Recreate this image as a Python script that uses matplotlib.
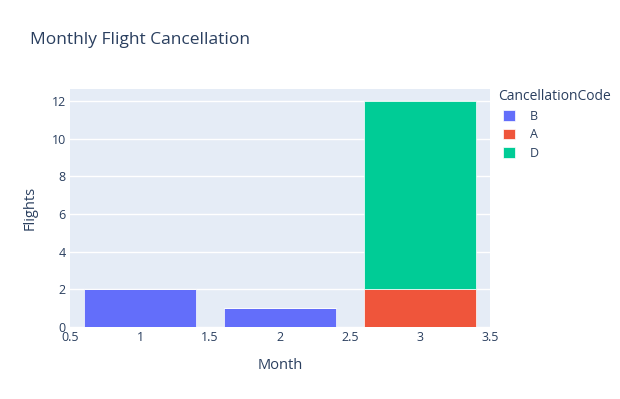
import matplotlib.pyplot as plt
import numpy as np

# data
months = [1, 2, 3]
codes = ['B', 'A', 'D']
flights = {
    'B': [2, 1, 0],
    'A': [0, 0, 2],
    'D': [0, 0, 10],
}
colors = {'B': '#636EFA', 'A': '#EF553B', 'D': '#00CC96'}

text_color = '#2a3f5f'
plt.rcParams['font.family'] = ['Open Sans', 'DejaVu Sans']

fig = plt.figure(figsize=(6.2, 3.99), dpi=100)
ax = fig.add_axes([0.113, 0.180, 0.677, 0.597])
ax.set_facecolor('#E5ECF6')

bottom = np.zeros(len(months))
for code in codes:
    vals = np.array(flights[code], dtype=float)
    ax.bar(months, vals, width=0.8, bottom=bottom, color=colors[code],
           edgecolor='white', linewidth=0.5, label=code, zorder=3)
    bottom += vals

ax.set_xlim(0.5, 3.5)
ax.set_ylim(0, 12.63)
ax.set_xticks([0.5, 1, 1.5, 2, 2.5, 3, 3.5])
ax.set_xticklabels(['0.5', '1', '1.5', '2', '2.5', '3', '3.5'])
ax.set_yticks([0, 2, 4, 6, 8, 10, 12])
ax.grid(axis='y', color='white', linewidth=1, zorder=0)
ax.grid(axis='x', visible=False)
ax.tick_params(length=0, colors=text_color, labelsize=9, pad=3)
for s in ax.spines.values():
    s.set_visible(False)

ax.set_xlabel('Month', color=text_color, fontsize=10.5, labelpad=10)
ax.set_ylabel('Flights', color=text_color, fontsize=10.5, labelpad=10)

fig.text(0.048, 0.90, 'Monthly Flight Cancellation', color=text_color,
         fontsize=12.5, va='center', ha='left')

# legend title placed separately so the entries sit indented below it
fig.text(0.803, 0.757, 'CancellationCode', color=text_color,
         fontsize=10, va='center', ha='left')
leg = ax.legend(loc='upper left', bbox_to_anchor=(0.812, 0.725),
                bbox_transform=fig.transFigure, frameon=False,
                fontsize=9, borderpad=0, borderaxespad=0,
                handlelength=0.9, handleheight=0.9, handletextpad=1.2,
                labelspacing=0.45)
for t in leg.get_texts():
    t.set_color(text_color)

fig.savefig('out.png', dpi=100, facecolor='white')
